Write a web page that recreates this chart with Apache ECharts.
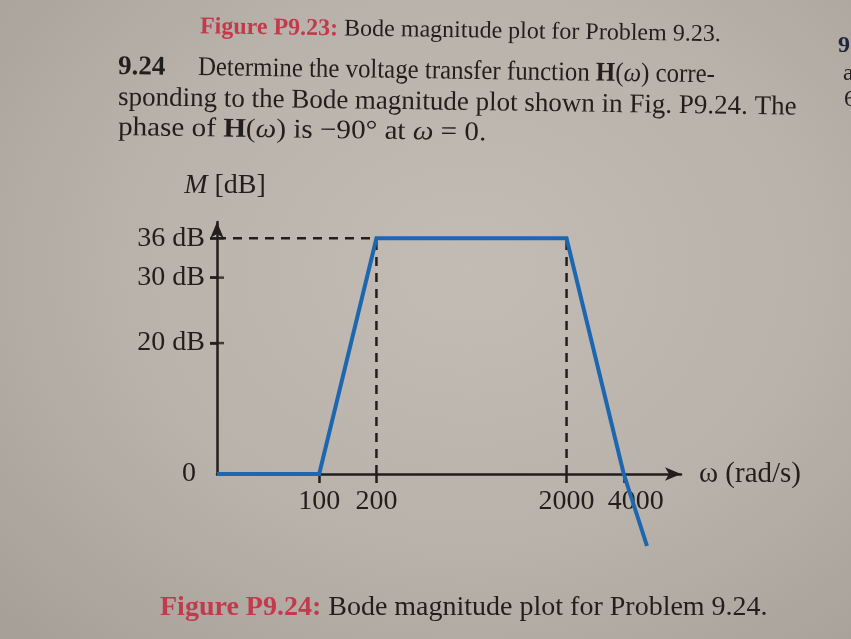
<!DOCTYPE html>
<html>
<head>
<meta charset="utf-8">
<script src="https://cdn.jsdelivr.net/npm/echarts@6.0.0/dist/echarts.min.js"></script>
<style>
html,body{margin:0;padding:0;width:851px;height:639px;overflow:hidden;}
body{background:radial-gradient(ellipse 75% 80% at 55% 42%, #c2bcb4 0%, #b9b2aa 55%, #a6a098 100%);}
#chart{width:851px;height:639px;}
</style>
</head>
<body>
<div id="chart"></div>
<script>
// ---- data ----
const omegaMin = 29;
const omegaMax = 8000;
const dbMax = 38.5;
const omegaPts = [29, 100, 200, 2000, 4000, 5300];      // rad/s
const magDb    = [0, 0, 36, 36, 0, -11];                // dB
const guide36Omega   = [29, 200];
const guide36Db      = [36, 36];
const guide200Omega  = [200, 200];
const guide200Db     = [0, 36];
const guide2000Omega = [2000, 2000];
const guide2000Db    = [0, 36];
const xTickValues  = [100, 200, 2000, 4000];
const yTickValues  = [20, 30, 36];
const yLabelValues = [0, 20, 30, 36];

const INK = '#221e1c';
const RED = '#c23a4c';
const BLUE = '#1c67b0';
const SERIF = '"Liberation Serif", "DejaVu Serif", serif';

function pairs(xs, ys) { return xs.map((x, i) => [x, ys[i]]); }

const chart = echarts.init(document.getElementById('chart'), null, {renderer: 'canvas'});

const axisLineStyle = {color: INK, width: 2.5};

const option = {
  backgroundColor: 'transparent',
  animation: false,
  grid: {left: 217, right: 170, top: 222, bottom: 165, containLabel: false},
  xAxis: {
    type: 'log',
    logBase: 10,
    min: omegaMin,
    max: omegaMax,
    name: 'ω (rad/s)',
    nameLocation: 'end',
    nameGap: 18,
    nameTextStyle: {fontFamily: SERIF, fontSize: 29, color: INK, verticalAlign: 'middle'},
    axisLine: {show: true, onZero: true, symbol: ['none', 'arrow'], symbolSize: [10, 16], lineStyle: axisLineStyle},
    axisTick: {show: true, customValues: xTickValues, inside: false, length: 9, lineStyle: {color: INK, width: 2.5}},
    axisLabel: {
      show: true,
      customValues: xTickValues,
      margin: 14,
      fontFamily: SERIF, fontSize: 28, color: INK,
      formatter: function (v) {
        const r = Math.round(v);
        return r === 4000 ? '{s|' + r + '}' : String(r);
      },
      rich: {s: {fontFamily: SERIF, fontSize: 28, color: INK, padding: [0, 0, 0, 24]}}
    },
    splitLine: {show: false},
    minorTick: {show: false},
    minorSplitLine: {show: false}
  },
  yAxis: {
    type: 'value',
    min: 0,
    max: dbMax,
    position: 'left',
    name: '{i|M} [dB]',
    nameLocation: 'end',
    nameGap: 22,
    nameTextStyle: {
      fontFamily: SERIF, fontSize: 28, color: INK, padding: [0, 0, 0, 16],
      rich: {i: {fontFamily: SERIF, fontSize: 28, color: INK, fontStyle: 'italic'}}
    },
    axisLine: {show: true, symbol: ['none', 'arrow'], symbolSize: [10, 16], lineStyle: axisLineStyle},
    axisTick: {show: true, customValues: yTickValues, inside: false, length: 7, lineStyle: {color: INK, width: 2.5}},
    axisLabel: {
      show: true,
      customValues: yLabelValues,
      margin: 12,
      fontFamily: SERIF, fontSize: 28, color: INK,
      formatter: function (v) { return v === 0 ? '{z|0}' : v + ' dB'; },
      rich: {z: {fontFamily: SERIF, fontSize: 28, color: INK, padding: [0, 9, 0, 0]}}
    },
    splitLine: {show: false}
  },
  series: [
    {
      type: 'line', name: 'guide36', data: pairs(guide36Omega, guide36Db),
      symbol: 'none', silent: true, z: 1,
      lineStyle: {color: INK, width: 2.5, type: [9, 7]}
    },
    {
      type: 'line', name: 'guide200', data: pairs(guide200Omega, guide200Db),
      symbol: 'none', silent: true, z: 1,
      lineStyle: {color: INK, width: 2.5, type: [9, 7]}
    },
    {
      type: 'line', name: 'guide2000', data: pairs(guide2000Omega, guide2000Db),
      symbol: 'none', silent: true, z: 1,
      lineStyle: {color: INK, width: 2.5, type: [9, 7]}
    },
    {
      // cross-shaped tick marks on the M axis (both sides of the axis line)
      type: 'scatter', name: 'yTickCross',
      data: yTickValues.map(v => [omegaMin, v]),
      symbol: 'rect', symbolSize: [14, 2.5], silent: true, clip: false, z: 3,
      itemStyle: {color: INK}
    },
    {
      type: 'line', name: 'M', data: pairs(omegaPts, magDb),
      symbol: 'none', clip: false, z: 5,
      lineStyle: {color: BLUE, width: 4, cap: 'butt', join: 'miter'}
    }
  ],
  graphic: [
    {
      type: 'text', x: 200, y: 27, rotation: -0.015, silent: true,
      style: {
        text: '{r|Figure P9.23:} Bode magnitude plot for Problem 9.23.',
        fontFamily: SERIF, fontSize: 24, fill: INK, verticalAlign: 'middle', align: 'left',
        rich: {r: {fontFamily: SERIF, fontSize: 24, fontWeight: 'bold', fill: RED, color: RED}}
      }
    },
    {
      type: 'text', x: 118, y: 67, rotation: -0.014, silent: true,
      style: {
        text: '{b|9.24}',
        fontFamily: SERIF, fontSize: 27, fill: INK, verticalAlign: 'middle', align: 'left',
        rich: {b: {fontFamily: SERIF, fontSize: 27, fontWeight: 'bold', fill: INK, color: INK}}
      }
    },
    {
      type: 'text', x: 198, y: 68, rotation: -0.014, scaleX: 0.92, silent: true,
      style: {
        text: 'Determine the voltage transfer function {b|H}({i|ω}) corre-',
        fontFamily: SERIF, fontSize: 27, fill: INK, verticalAlign: 'middle', align: 'left',
        rich: {
          b: {fontFamily: SERIF, fontSize: 27, fontWeight: 'bold', fill: INK, color: INK},
          i: {fontFamily: SERIF, fontSize: 27, fontStyle: 'italic', fill: INK, color: INK}
        }
      }
    },
    {
      type: 'text', x: 118, y: 98, rotation: -0.014, silent: true,
      style: {
        text: 'sponding to the Bode magnitude plot shown in Fig. P9.24. The',
        fontFamily: SERIF, fontSize: 27, fill: INK, verticalAlign: 'middle', align: 'left'
      }
    },
    {
      type: 'text', x: 118, y: 128, rotation: -0.014, scaleX: 1.08, silent: true,
      style: {
        text: 'phase of {b|H}({i|ω}) is −90° at {i|ω} = 0.',
        fontFamily: SERIF, fontSize: 27, fill: INK, verticalAlign: 'middle', align: 'left',
        rich: {
          b: {fontFamily: SERIF, fontSize: 27, fontWeight: 'bold', fill: INK, color: INK},
          i: {fontFamily: SERIF, fontSize: 27, fontStyle: 'italic', fill: INK, color: INK}
        }
      }
    },
    {
      type: 'text', x: 838, y: 46, silent: true,
      style: {text: '9', fontFamily: SERIF, fontSize: 24, fontWeight: 'bold', fill: '#1e2440', verticalAlign: 'middle', align: 'left'}
    },
    {
      type: 'text', x: 843, y: 74, silent: true,
      style: {text: 'a', fontFamily: SERIF, fontSize: 24, fill: INK, verticalAlign: 'middle', align: 'left'}
    },
    {
      type: 'text', x: 844, y: 100, silent: true,
      style: {text: '6', fontFamily: SERIF, fontSize: 24, fill: INK, verticalAlign: 'middle', align: 'left'}
    },
    {
      type: 'text', x: 160, y: 608, silent: true,
      style: {
        text: '{r|Figure P9.24:} Bode magnitude plot for Problem 9.24.',
        fontFamily: SERIF, fontSize: 28, fill: INK, verticalAlign: 'middle', align: 'left',
        rich: {r: {fontFamily: SERIF, fontSize: 28, fontWeight: 'bold', fill: RED, color: RED}}
      }
    }
  ]
};

chart.setOption(option);
</script>
</body>
</html>
